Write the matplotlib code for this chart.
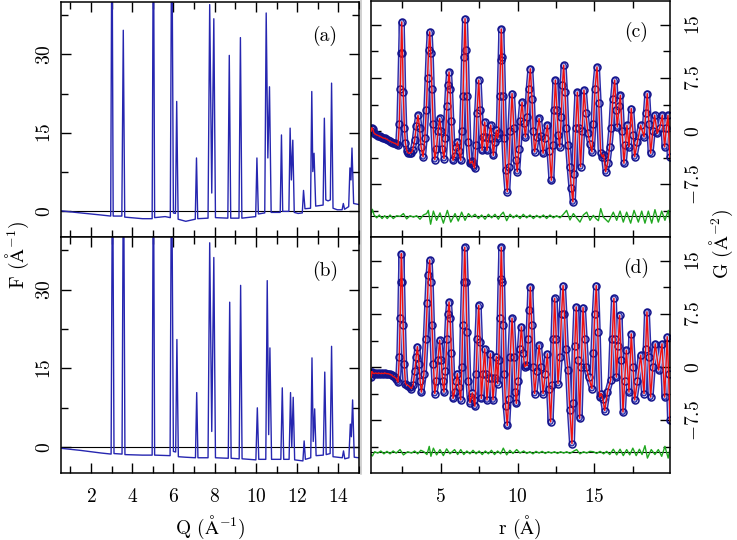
import matplotlib
matplotlib.use('Agg')
import matplotlib.pyplot as plt
from matplotlib.lines import Line2D
from matplotlib.ticker import MultipleLocator, FuncFormatter

plt.rcParams['font.family'] = ['cmr10', 'DejaVu Serif']
plt.rcParams['mathtext.fontset'] = 'cm'
plt.rcParams['axes.formatter.use_mathtext'] = True
plt.rcParams['font.size'] = 14

# ---- F(Q), panel (a): experiment ----
q_a = [0.55, 1.5, 2.5, 2.96, 3.02, 3.08, 3.50, 3.57, 3.64, 4.5, 4.97, 5.03, 5.09,
       5.6, 5.85, 5.92, 6.00, 6.10, 6.16, 6.23, 6.6, 7.06, 7.12, 7.18, 7.68, 7.76,
       7.86, 7.96, 8.04, 8.64, 8.71, 8.78, 9.18, 9.25, 9.32, 9.99, 10.05, 10.12,
       10.43, 10.50, 10.58, 10.66, 10.74, 11.18, 11.24, 11.30, 11.60, 11.66, 11.72,
       11.79, 11.86, 12.05, 12.25, 12.31, 12.38, 12.65, 12.71, 12.76, 12.82, 12.90,
       13.26, 13.32, 13.39, 13.50, 13.61, 13.67, 13.74, 13.95, 14.18, 14.24, 14.30,
       14.50, 14.56, 14.61, 14.66, 14.74, 15.0]
f_a = [0.1, -0.3, -0.7, -0.9, 60, -0.9, -0.9, 34.6, -1.1, -1.4, -1.4, 60, -1.2,
       -1.0, -1.2, 60, -0.3, -0.4, 21.0, -1.5, -1.9, -1.5, 10.2, -1.4, -1.3, 39.5,
       3.5, 36.8, -1.2, -1.3, 29.8, -1.3, -1.3, 33.2, -1.3, -1.0, 10.2, -0.5,
       -0.3, 37.9, 10.2, 23.8, -0.2, -0.2, 14.6, 0.0, 0.0, 15.9, 6.0,
       13.6, -0.2, -0.4, -0.3, 4.0, 0.5, 0.6, 22.9, 7.6, 11.1, 1.0,
       1.2, 17.8, 2.2, 2.0, 2.2, 24.5, 0.6, 0.3, 0.3, 1.5, 0.4,
       0.9, 8.3, 6.0, 12.1, 1.5, 1.3]

# ---- F(Q), panel (b): model ----
q_b = [0.55, 1.5, 2.5, 2.98, 3.05, 3.12, 3.51, 3.58, 3.65, 4.5, 4.97, 5.03, 5.09,
       5.84, 5.91, 6.00, 6.11, 6.17, 6.24, 6.6, 7.07, 7.13, 7.19, 7.68, 7.76, 7.86,
       7.96, 8.04, 8.66, 8.73, 8.80, 9.19, 9.26, 9.33, 10.0, 10.07, 10.14, 10.48,
       10.55, 10.62, 10.68, 10.76, 11.21, 11.28, 11.35, 11.61, 11.68, 11.74, 11.81,
       11.88, 12.28, 12.34, 12.40, 12.66, 12.72, 12.78, 12.85, 12.92, 13.27, 13.34,
       13.41, 13.60, 13.67, 13.74, 14.19, 14.25, 14.31, 14.51, 14.58, 14.63, 14.69,
       14.77, 15.0]
f_b = [-0.2, -0.6, -1.1, -1.3, 60, -1.2, -1.3, 60, -1.4, -1.5, -1.5, 60, -1.5,
       -1.6, 60, -0.8, -0.9, 20.5, -1.8, -1.9, -2.0, 10.4, -2.0, -2.0, 38.9, 3.0,
       36.1, -2.0, -2.1, 27.6, -2.1, -2.2, 30.8, -2.2, -2.4, 7.5, -2.3, -2.3,
       31.7, 2.4, 18.9, -2.3, -2.3, 11.3, -2.3, -2.3, 10.4, 0.1, 9.5,
       -2.4, -2.6, 1.2, -2.3, -2.0, 17.0, 1.1, 7.3, -1.6, -1.5, 14.3,
       -1.4, -1.2, 19.2, -1.8, -2.0, -0.7, -2.2, -2.0, 4.4, 2.0, 9.0,
       -1.9, -2.0]

# ---- G(r), panel (c): experiment (circles) and fit (line) ----
r_c = [0.47, 0.52, 0.58, 0.64, 0.72, 0.82, 0.92, 1.02, 1.12, 1.24, 1.35, 1.46, 1.57,
       1.68, 1.79, 1.90, 2.00, 2.10, 2.22, 2.30, 2.36, 2.41, 2.46, 2.51, 2.56, 2.63,
       2.70, 2.80, 2.90, 2.98, 3.08, 3.18, 3.30, 3.42, 3.52, 3.62, 3.72, 3.85, 3.96,
       4.06, 4.14, 4.21, 4.28, 4.35, 4.42, 4.50, 4.61, 4.72, 4.82, 4.93, 5.02, 5.11,
       5.21, 5.30, 5.40, 5.47, 5.54, 5.61, 5.69, 5.80, 5.90, 6.00, 6.08, 6.18, 6.30,
       6.38, 6.45, 6.51, 6.58, 6.64, 6.71, 6.80, 6.90, 6.98, 7.05, 7.12, 7.20, 7.28,
       7.36, 7.47, 7.56, 7.69, 7.78, 7.86, 7.94, 8.01, 8.12, 8.25, 8.34, 8.42, 8.52,
       8.62, 8.70, 8.76, 8.83, 8.89, 8.94, 9.00, 9.06, 9.13, 9.22, 9.33, 9.42, 9.52,
       9.64, 9.76, 9.88, 9.98, 10.08, 10.18, 10.29, 10.40, 10.51, 10.62, 10.72,
       10.83, 10.94, 11.02, 11.11, 11.25, 11.40, 11.53, 11.66, 11.80, 11.94, 12.07,
       12.20, 12.30, 12.38, 12.46, 12.56, 12.65, 12.74, 12.84, 12.92, 13.00, 13.09,
       13.18, 13.28, 13.38, 13.50, 13.60, 13.68, 13.78, 13.89, 13.99, 14.10, 14.20,
       14.32, 14.44, 14.58, 14.72, 14.84, 14.94, 15.04, 15.17, 15.28, 15.41, 15.52,
       15.60, 15.73, 15.86, 15.99, 16.10, 16.20, 16.32, 16.41, 16.49, 16.60, 16.69,
       16.80, 16.92, 17.02, 17.12, 17.25, 17.40, 17.52, 17.62, 17.80, 18.01, 18.23,
       18.34, 18.44, 18.55, 18.66, 18.80, 18.92, 19.09, 19.25, 19.42, 19.57, 19.68,
       19.79, 19.90]
g_c = [0.0, 0.5, 0.3, -0.2, -0.4, -0.5, -0.6, -0.7, -0.8, -0.95, -1.0, -1.1, -1.25,
       -1.4, -1.5, -1.6, -1.7, -1.8, -2.0, 1.0, 6.0, 11.0, 15.4, 11.0, 5.5, 0.5,
       -1.7, -2.8, -3.1, -3.1, -3.0, -2.6, -1.3, 0.8, 2.25, 0.5, -2.2, -3.6, -1.0,
       3.0, 7.5, 11.5, 14.0, 11.0, 6.0, 1.0, -4.0, -2.5, 0.0, 1.8, 0.0, -2.5,
       -3.85, -1.0, 3.5, 6.5, 8.35, 6.0, 1.5, -4.1, -3.5, -2.2, -1.5, -2.8, -4.1,
       0.0, 5.0, 10.5, 15.85, 11.5, 5.0, -1.5, -4.5, -4.4, -4.2, -4.8, -5.2, -2.0,
       2.5, 7.2, 3.0, -2.7, -0.8, 1.3, -0.8, -2.7, -1.0, 0.85, -1.0, -3.4, -1.5,
       0.15, -1.0, -0.3, 5.0, 10.0, 14.4, 10.5, 5.0, -1.0, -5.5, -8.5, -5.0, 0.0,
       5.3, 0.5, -4.0, -5.7, -2.5, 1.5, 4.1, 1.2, -0.8, 2.0, 6.0,
       8.8, 4.5, 0.0, -2.9, -0.8, 1.8, -0.6, -3.1, -1.0, 0.85, -2.8,
       -6.9, -2.0, 3.0, 7.2, 3.0, -0.5, -2.2, 2.0, 6.5, 9.3, 5.5,
       0.5, -2.0, -5.0, -8.0, -9.95, -6.0, 0.5, 5.5, 0.5, -5.0, 0.0,
       5.8, 2.5, -0.3, -1.8, -2.9, 1.0, 6.0, 9.05, 4.0, -3.1, -3.6,
       -3.3, -5.7, -4.5, -2.2, 0.5, 4.5, 7.2, 3.0, 0.6, 3.5, 5.06,
       0.0, -4.5, -2.0, 0.85, -2.2, 3.2, -0.5, -3.6, -1.5, 0.85, -0.8,
       2.5, 5.3, 1.0, -3.1, 0.0, 2.25, -0.3, 0.5, 2.25, -2.2, 0.5,
       2.25, -3.6]

# difference (experiment - fit) for panel (c)
rd_c = [0.46, 0.55, 0.66, 0.83, 1.0, 1.18, 1.35, 1.52, 1.70, 1.91, 2.13, 2.35, 2.57,
        2.78, 3.0, 3.22, 3.43, 3.65, 3.87, 4.08, 4.19, 4.34, 4.52, 4.73, 4.95, 5.17,
        5.43, 5.65, 5.93, 6.14, 6.36, 6.58, 6.80, 7.01, 7.23, 7.45, 7.66, 7.88, 8.10,
        8.31, 8.53, 8.75, 8.90, 9.07, 9.29, 9.51, 9.72, 9.94, 10.16, 10.37, 10.59,
        10.81, 11.03, 11.24, 11.46, 11.68, 11.89, 12.11, 12.33, 12.54, 12.76, 12.98,
        13.19, 13.41, 13.63, 13.84, 14.06, 14.28, 14.50, 14.71, 14.93, 15.10, 15.26,
        15.41, 15.58, 15.91, 16.23, 16.45, 16.67, 16.88, 17.10, 17.36, 17.58, 17.86,
        18.08, 18.29, 18.51, 18.73, 18.94, 19.16, 19.38, 19.59, 19.81, 19.92]
dg_c = [0.3, 1.0, 0.2, -0.2, 0.2, -0.3, 0.1, -0.3, 0.2, -0.3, 0.1, 0.0, 0.4,
        -0.35, 0.1, -0.1, 0.1, -0.4, 0.2, 0.4, 0.85, -1.1, 0.75, -0.55, 0.5, -0.95,
        0.85, -0.8, 0.4, -0.65, 0.6, -0.55, 0.4, -0.1, 0.3, -0.3, 0.2, -0.4, 0.3,
        -0.2, 0.3, -0.4, 0.2, 0.6, -0.6, 0.3, -0.2, 0.2, -0.3, 0.3, -0.2,
        0.2, -0.3, 0.15, -0.2, 0.2, -0.3, 0.2, -0.2, 0.1, -0.2, 0.3,
        0.85, -0.5, 0.4, -0.2, -0.8, 0.2, 0.6, -0.55, 0.15, -0.3, -0.6,
        1.1, -0.1, -0.8, 0.6, -0.55, 0.75, -0.8, 0.6, -0.95, 0.85, -0.8,
        0.75, -0.95, 0.75, -0.95, 0.95, -0.8, 0.75, -0.55, 0.85, -0.8]

# ---- G(r), panel (d): model data (circles) and fit (line) ----
r_d = [0.47, 0.52, 0.58, 0.66, 0.76, 0.86, 0.96, 1.06, 1.16, 1.26, 1.36, 1.46, 1.57,
       1.68, 1.80, 1.90, 2.00, 2.10, 2.22, 2.30, 2.36, 2.40, 2.44, 2.49, 2.55, 2.62,
       2.70, 2.80, 2.90, 3.00, 3.09, 3.20, 3.32, 3.40, 3.48, 3.58, 3.66, 3.74, 3.90,
       4.02, 4.12, 4.20, 4.28, 4.35, 4.43, 4.52, 4.61, 4.72, 4.82, 4.93, 5.03, 5.12,
       5.21, 5.30, 5.40, 5.47, 5.54, 5.61, 5.69, 5.80, 5.90, 6.00, 6.08, 6.18, 6.30,
       6.37, 6.43, 6.50, 6.56, 6.63, 6.70, 6.80, 6.90, 7.00, 7.06, 7.14, 7.22, 7.30,
       7.38, 7.47, 7.56, 7.64, 7.75, 7.86, 7.93, 8.01, 8.12, 8.23, 8.32, 8.40, 8.51,
       8.62, 8.70, 8.77, 8.83, 8.89, 8.94, 9.00, 9.06, 9.13, 9.22, 9.33, 9.42, 9.52,
       9.64, 9.76, 9.85, 9.92, 10.04, 10.14, 10.25, 10.36, 10.46, 10.55, 10.62, 10.70,
       10.77, 10.83, 10.92, 11.01, 11.11, 11.25, 11.40, 11.53, 11.66, 11.80, 11.94,
       12.04, 12.15, 12.25, 12.33, 12.41, 12.52, 12.63, 12.75, 12.86, 12.96, 13.05,
       13.15, 13.28, 13.40, 13.54, 13.62, 13.72, 13.82, 13.93, 14.04, 14.14, 14.26,
       14.37, 14.47, 14.62, 14.84, 14.93, 15.02, 15.12, 15.22, 15.34, 15.45, 15.55,
       15.67, 15.85, 16.06, 16.16, 16.27, 16.35, 16.43, 16.54, 16.64, 16.75, 16.86,
       16.97, 17.08, 17.25, 17.40, 17.52, 17.62, 17.80, 18.01, 18.23, 18.33, 18.42,
       18.54, 18.66, 18.80, 18.96, 19.18, 19.40, 19.57, 19.74, 19.83, 19.92]
g_d = [-1.4, -0.6, -0.8, -0.9, -0.8, -0.9, -0.8, -0.9, -0.85, -0.9, -0.8, -0.9, -0.9,
       -1.0, -1.1, -1.3, -1.4, -1.6, -2.1, 1.5, 7.0, 12.0, 16.0, 12.0, 6.0, 0.5,
       -2.3, -2.5, -2.6, -2.8, -3.0, -2.5, -0.5, 1.5, 2.9, 0.5, -2.0, -3.5, -1.0,
       4.0, 9.0, 13.0, 15.1, 12.0, 6.0, 0.5, -3.7, -2.0, 1.0, 3.8, 1.0, -2.0,
       -3.5, -0.5, 4.0, 7.5, 9.2, 7.0, 2.0, -4.4, -3.5, -2.0, -0.9, -2.8, -4.6,
       0.0, 6.0, 12.0, 16.9, 12.0, 5.0, -2.0, -5.0, -4.2, -3.6, -4.6, -5.5, -1.0,
       4.0, 8.7, 3.5, -4.4, -1.0, 2.6, -1.0, -4.6, -1.5, 1.9, -1.5, -4.6, -1.5,
       1.5, -2.3, 1.0, 7.0, 12.5, 16.9, 12.0, 6.0, -1.0, -5.5, -8.2, -4.5, 1.5,
       6.9, 1.5, -3.5, -5.1, -2.0, 2.5, 5.7, 2.0, 0.05, 0.3, 0.2, 4.0,
       8.0, 11.3, 6.0, 0.0, -3.7, -0.5, 3.1, 0.0, -3.7, -1.0, 1.9,
       -3.0, -7.7, -2.5, 4.0, 9.7, 4.0, -2.3, 1.5, 7.5, 11.5, 7.5,
       2.5, -0.4, -6.0, -10.75, -5.0, 3.0, 8.5, 1.0, -7.2, 0.0, 8.4,
       4.0, 0.0, -1.4, -3.0, 2.0, 7.5, 11.5, 5.0, -4.2, -3.7, -4.5,
       -6.1, -3.5, -1.8, 4.0, 9.7, 4.0, -1.4, 3.0, 7.3, 1.0, -6.3,
       -2.0, 2.4, -3.5, 4.7, 0.0, -4.6, -2.0, 1.7, -3.7, 2.5, 7.8,
       1.5, -4.2, 0.0, 3.3, -0.4, 3.3, -4.2, 4.3, -1.0, -7.5]

# difference for panel (d)
rd_d = [0.46, 0.55, 0.70, 0.9, 1.1, 1.3, 1.5, 1.7, 1.9, 2.1, 2.35, 2.57, 2.85, 3.1,
        3.3, 3.5, 3.7, 3.9, 4.1, 4.25, 4.36, 4.52, 4.73, 4.95, 5.17, 5.38, 5.60, 5.9,
        6.1, 6.3, 6.5, 6.7, 6.9, 7.1, 7.3, 7.5, 7.7, 7.9, 8.1, 8.3, 8.5, 8.7, 8.9,
        9.07, 9.29, 9.5, 9.7, 9.94, 10.16, 10.4, 10.6, 10.8, 11.0, 11.2, 11.4, 11.6,
        11.8, 12.0, 12.2, 12.4, 12.6, 12.8, 13.0, 13.2, 13.4, 13.63, 13.84, 14.06,
        14.3, 14.5, 14.7, 14.93, 15.15, 15.37, 15.6, 15.8, 16.0, 16.23, 16.45, 16.67,
        16.88, 17.1, 17.3, 17.5, 17.72, 17.93, 18.1, 18.29, 18.45, 18.7, 18.94, 19.16,
        19.38, 19.59, 19.8, 19.92]
dg_d = [-0.3, -0.5, 0.1, -0.1, 0.2, -0.2, 0.15, -0.2, 0.2, -0.1, 0.4, -0.35, 0.1, -0.1,
        0.2, -0.2, 0.3, 0.1, -0.3, 0.85, -0.55, 0.6, -0.35, 0.4, -0.45, 0.5, -0.2, 0.4,
        -0.3, 0.4, -0.3, 0.2, -0.2, 0.3, -0.2, 0.2, -0.3, 0.2, -0.2, 0.3, -0.3, 0.2, -0.2,
        0.6, -0.35, 0.3, -0.15, 0.4, -0.1, 0.2, -0.15, 0.1, -0.2, 0.15, -0.1, 0.15,
        -0.15, 0.1, -0.1, 0.1, -0.15, 0.1, -0.1, 0.1, -0.15, 0.15, 0.4, -0.2,
        0.1, -0.1, 0.15, 0.1, -0.15, 0.15, -0.2, 0.15, -0.3, 0.45, -0.35, 0.45,
        -0.45, 0.4, -0.35, 0.6, -0.45, 0.45, -0.3, 0.95, -0.8, 0.4, -0.3, 0.4,
        -0.55, 0.85, -0.8, 0.5]

diff_offset = -12.0

fq_color = '#2626b0'
obs_color = '#14148c'
tube_edge = '#2c2ca8'
tube_fill = '#c4c4ee'
fit_color = '#f01010'
diff_color = '#20a820'

W, H = 737, 540
fig = plt.figure(figsize=(W / 100, H / 100), dpi=100)

def box(x0, y0, x1, y1):
    return [x0 / W, 1 - y1 / H, (x1 - x0) / W, (y1 - y0) / H]

ax_a = fig.add_axes(box(61, 2, 359, 237))
ax_b = fig.add_axes(box(61, 237, 359, 473))
ax_c = fig.add_axes(box(371, 1, 670, 237))
ax_d = fig.add_axes(box(371, 237, 670, 473))

fmt = FuncFormatter(lambda v, p: r'$%s$' % ('%g' % v))

def style(ax, left):
    for s in ax.spines.values():
        s.set_linewidth(1.1)
    ax.tick_params(which='both', direction='in', top=True, right=True,
                   width=1.0, colors='k')
    ax.tick_params(which='major', length=7.5)
    ax.tick_params(which='minor', length=5)
    ax.tick_params(axis='x', pad=11)
    if left:
        ax.set_xlim(0.55, 15.0)
        ax.set_ylim(-4.9, 40.0)
        ax.xaxis.set_major_locator(MultipleLocator(2))
        ax.xaxis.set_minor_locator(MultipleLocator(1))
        ax.yaxis.set_major_locator(MultipleLocator(15))
        ax.yaxis.set_minor_locator(MultipleLocator(7.5))
        ax.tick_params(axis='y', labelleft=True, labelright=False, pad=5,
                       labelrotation=90)
    else:
        ax.set_xlim(0.46, 19.92)
        ax.set_ylim(-14.9, 18.35)
        ax.xaxis.set_major_locator(MultipleLocator(5))
        ax.xaxis.set_minor_locator(MultipleLocator(2.5))
        ax.yaxis.set_major_locator(MultipleLocator(7.5))
        ax.yaxis.set_minor_locator(MultipleLocator(3.75))
        ax.tick_params(axis='y', labelleft=False, labelright=True, pad=11,
                       labelrotation=90)
    ax.xaxis.set_major_formatter(fmt)
    ax.yaxis.set_major_formatter(fmt)
    for lab in ax.get_yticklabels():
        lab.set_va('center')

for ax, q, f, tag in [(ax_a, q_a, f_a, '(a)'), (ax_b, q_b, f_b, '(b)')]:
    ax.axhline(0, color='k', lw=0.8, zorder=1)
    ax.plot(q, f, color=fq_color, lw=1.0, zorder=2)
    style(ax, True)
    ax.text(0.886, 0.855, tag, transform=ax.transAxes, ha='center', va='center')

for ax, r, g, rd, dg, tag in [(ax_c, r_c, g_c, rd_c, dg_c, '(c)'),
                              (ax_d, r_d, g_d, rd_d, dg_d, '(d)')]:
    # data drawn as a chain of open circles: outline tube plus circle markers
    ax.plot(r, g, color=tube_edge, lw=4.4, zorder=1, solid_joinstyle='round',
            solid_capstyle='round')
    ax.plot(r, g, color=tube_fill, lw=2.4, zorder=1.1, solid_joinstyle='round')
    ax.plot(r, g, 'o', ms=5.0, mfc='none', mec=obs_color, mew=1.1, zorder=2)
    ax.plot(r, g, color=fit_color, lw=1.0, zorder=3)
    ax.axhline(diff_offset, color='k', lw=0.8, zorder=1)
    ax.plot(rd, [diff_offset + v for v in dg], color=diff_color, lw=1.0, zorder=2)
    style(ax, False)
    ax.text(0.886, 0.87, tag, transform=ax.transAxes, ha='center', va='center')

for ax in (ax_a, ax_c):
    ax.tick_params(axis='x', labelbottom=False)

fig.text(210 / W, 1 - 527 / H, r'Q ($\mathrm{\AA}^{-1}$)', ha='center', va='center')
fig.text(520 / W, 1 - 527 / H, r'r ($\mathrm{\AA}$)', ha='center', va='center')
fig.text(17 / W, 1 - 255 / H, r'F ($\mathrm{\AA}^{-1}$)', ha='center', va='center',
         rotation=90)
fig.text(721 / W, 1 - 244 / H, r'G ($\mathrm{\AA}^{-2}$)', ha='center', va='center',
         rotation=90)

# faint separator between the two halves of the figure
fig.add_artist(Line2D([361 / W, 361 / W], [1 - 474 / H, 1], color='#c4c4c4', lw=1.1))

fig.savefig('out.png', dpi=100)
